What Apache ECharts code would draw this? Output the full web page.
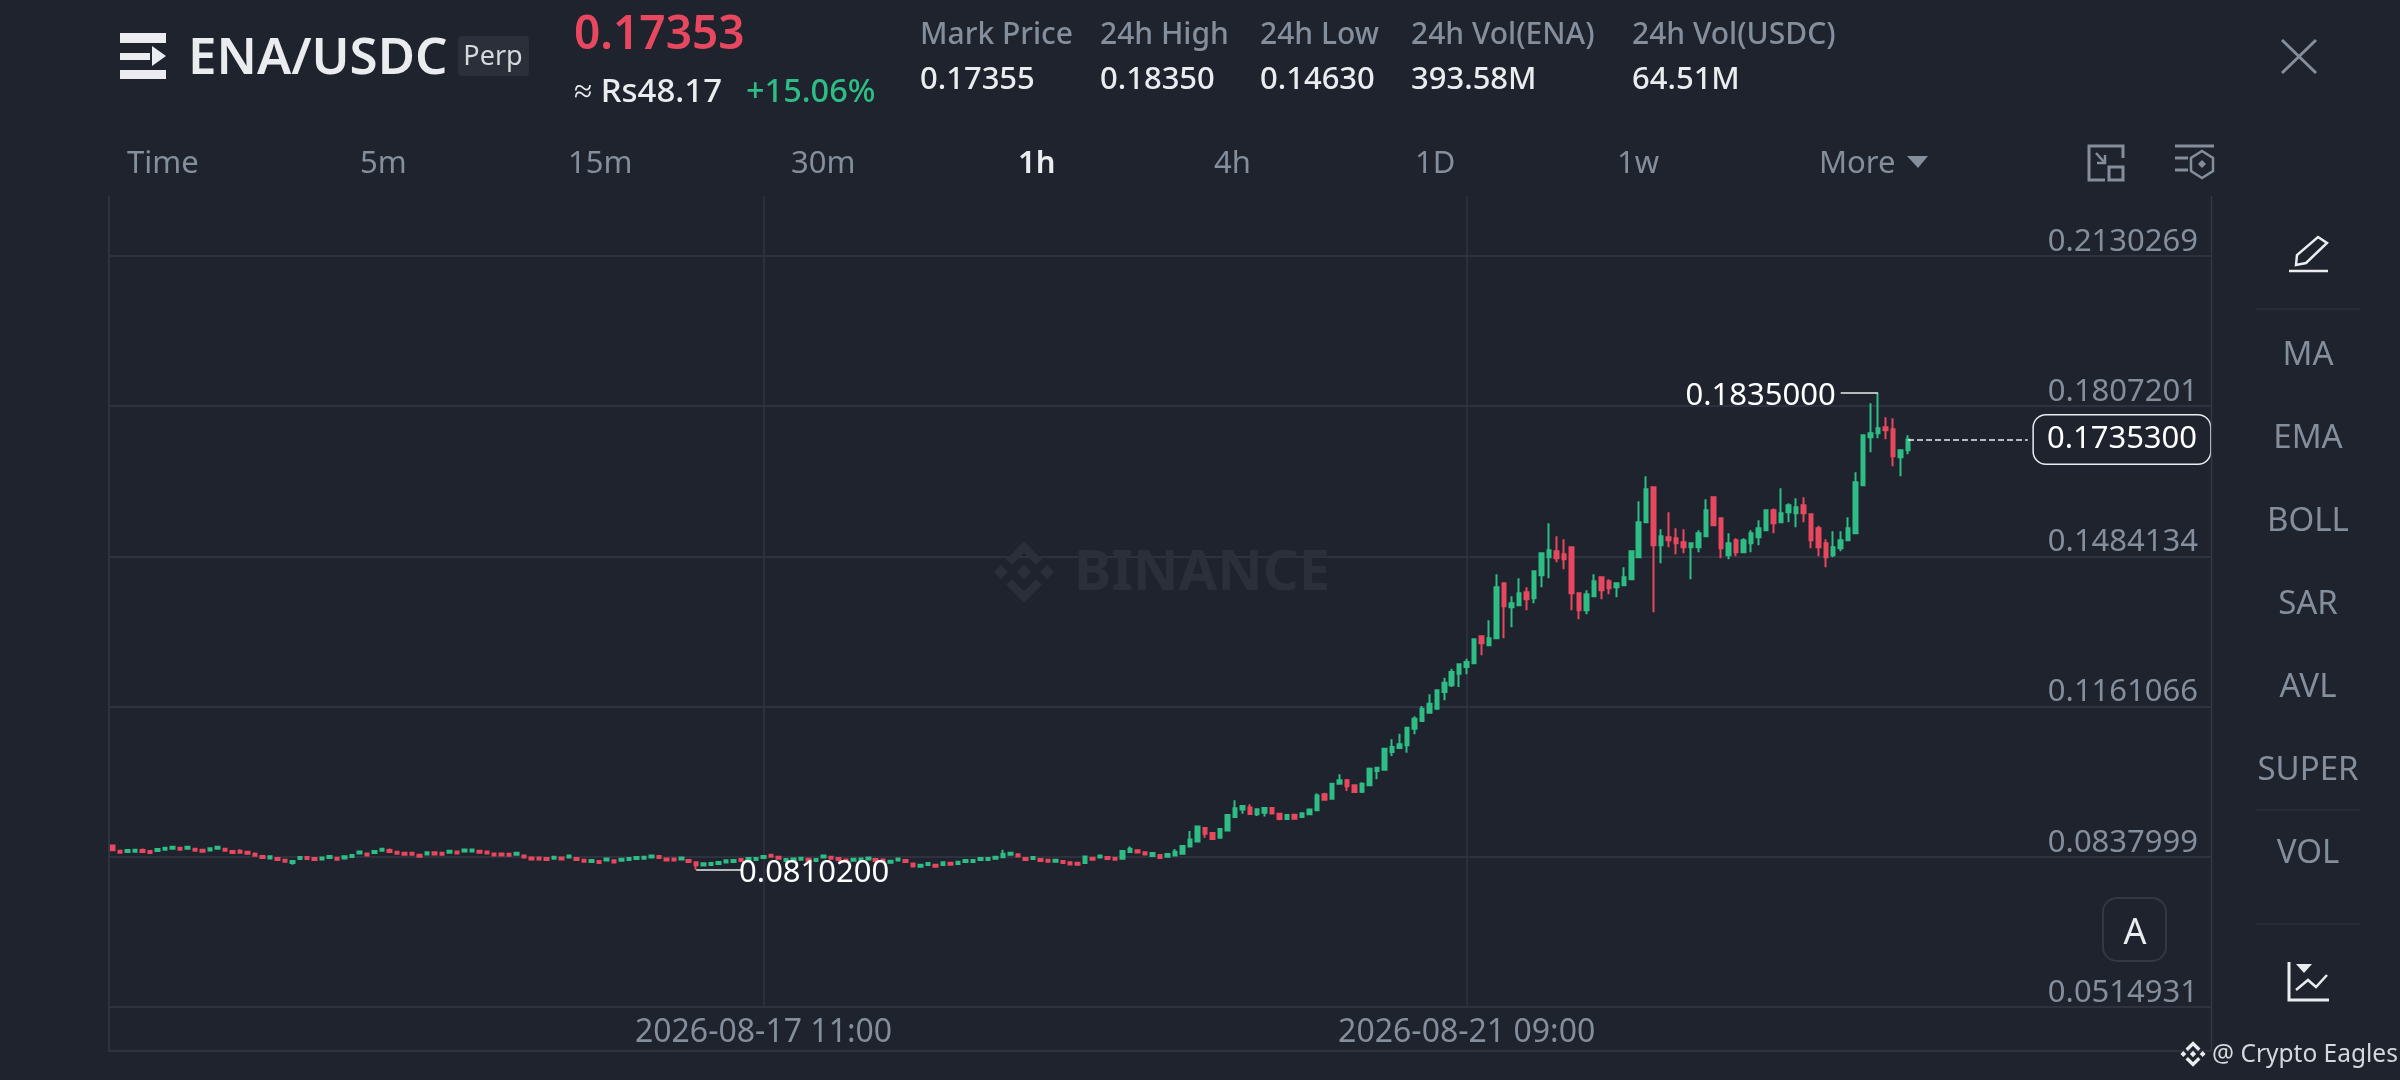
<!DOCTYPE html>
<html><head><meta charset="utf-8">
<style>html,body{margin:0;padding:0;background:#1e232d}#c{width:2400px;height:1080px}</style>
<script src="https://cdn.jsdelivr.net/npm/echarts@6/dist/echarts.min.js"></script>
</head><body><div id="c"></div>
<script>
// Prices are stored in units of 0.00001 USDC, one candle per hour.
const priceUnit = 0.00001;
const opens = [
8620,8510,8481,8488,8525,8503,8502,8531,8552,8575,
8552,8553,8532,8517,8552,8553,8503,8510,8489,8446,
8396,8345,8353,8317,8244,8330,8374,8353,8323,8352,
8360,8345,8373,8452,8453,8459,8509,8525,8489,8467,
8467,8424,8431,8475,8467,8466,8496,8495,8495,8510,
8496,8453,8453,8446,8423,8410,8367,8367,8353,8337,
8367,8366,8353,8317,8266,8288,8301,8303,8294,8309,
8330,8337,8366,8396,8345,8345,8323,8310,8262,8194,
8201,8223,8259,8266,8331,8309,8309,8352,8424,8381,
8287,8301,8316,8338,8287,8366,8381,8353,8324,8294,
8301,8323,8331,8324,8251,8301,8310,8235,8165,8201,
8209,8205,8252,8225,8266,8266,8309,8309,8337,8368,
8423,8432,8353,8330,8331,8317,8273,8288,8260,8252,
8245,8360,8366,8374,8360,8338,8481,8518,8475,8397,
8416,8381,8409,8446,8603,8711,8997,8889,8790,8947,
9234,9394,9437,9292,9328,9427,9307,9191,9285,9234,
9292,9378,9722,9630,9952,10023,9916,9780,9916,10223,
10253,10632,10718,10776,11135,11299,11479,11565,11922,12067,
12318,12460,12540,13120,12927,13078,14261,13745,13788,14067,
13938,14433,14820,14949,14884,15035,14046,13680,13981,14390,
14304,14175,14218,14347,14820,15573,16326,15078,15250,15229,
15143,15035,15035,15272,16111,15659,14863,15186,14928,15121,
15250,15400,15831,15573,15788,15766,15939,15745,15444,15121,
14863,15014,15186,15336,16368,17401,17487,17616,17573,16971,
17122];
const closes = [
8520,8466,8525,8532,8481,8459,8546,8575,8596,8531,
8596,8509,8488,8561,8596,8509,8459,8466,8445,8402,
8352,8389,8309,8273,8288,8374,8330,8309,8367,8396,
8316,8389,8417,8496,8409,8503,8553,8481,8445,8423,
8423,8380,8475,8431,8423,8510,8452,8539,8539,8466,
8452,8409,8409,8402,8467,8366,8323,8323,8309,8381,
8323,8410,8309,8273,8310,8244,8345,8259,8338,8353,
8374,8381,8410,8352,8301,8301,8367,8266,8198,8238,
8245,8267,8303,8310,8287,8353,8353,8396,8380,8337,
8331,8345,8360,8294,8331,8410,8337,8309,8280,8338,
8345,8367,8287,8280,8295,8345,8266,8169,8209,8245,
8165,8262,8208,8275,8310,8310,8353,8353,8381,8445,
8467,8388,8309,8374,8287,8273,8317,8244,8216,8208,
8388,8316,8410,8330,8316,8503,8553,8474,8431,8459,
8351,8437,8489,8609,8754,9033,8877,8760,8975,9276,
9421,9471,9299,9400,9427,9313,9191,9277,9199,9314,
9394,9700,9608,9952,10023,9894,9772,9952,10275,10296,
10705,10740,10798,11157,11350,11565,11673,11959,12124,12353,
12518,12568,13056,12970,13078,14175,13766,13831,14045,13917,
14519,14906,14970,14798,14777,14046,13680,14024,14304,14110,
14153,14261,14390,14949,15573,16283,15078,15272,15186,15121,
15035,15121,15336,15831,15508,15014,15121,14928,15186,15336,
15444,15831,15552,15766,15939,15896,15766,15186,15035,14820,
15035,15186,15444,16433,17444,17487,17595,17552,16992,17122,
17353];
const lows = [
8510,8455,8475,8482,8475,8450,8496,8525,8546,8525,
8546,8500,8480,8510,8546,8500,8452,8460,8438,8395,
8345,8338,8302,8266,8210,8324,8324,8302,8316,8346,
8310,8338,8366,8446,8402,8452,8502,8475,8438,8416,
8416,8372,8425,8425,8416,8460,8446,8488,8488,8460,
8445,8402,8402,8395,8416,8360,8316,8316,8302,8330,
8316,8360,8302,8266,8260,8238,8295,8252,8288,8302,
8324,8330,8360,8345,8295,8295,8316,8260,8102,8187,
8195,8216,8252,8260,8280,8302,8302,8346,8374,8330,
8280,8295,8310,8288,8280,8360,8330,8302,8274,8288,
8295,8316,8280,8274,8245,8295,8260,8160,8158,8195,
8158,8198,8200,8218,8260,8260,8302,8302,8330,8360,
8416,8380,8302,8324,8280,8266,8266,8238,8210,8200,
8238,8310,8360,8324,8310,8330,8470,8468,8425,8390,
8345,8375,8387,8440,8589,8705,8790,8752,8784,8940,
9228,9307,9292,9255,9247,9306,9163,9185,9192,9228,
9286,9363,9587,9623,9937,9793,9765,9751,9902,10045,
10246,10546,10718,10619,11013,11277,11479,11558,11744,12030,
12030,12303,12534,12712,12906,13078,13078,13314,13766,13680,
13831,14175,14368,14712,14562,13680,13487,13594,13960,13917,
14024,13960,14196,14340,14798,15573,13637,14691,15035,14884,
14906,14347,14927,15272,15500,14798,14777,14841,14906,14928,
15078,15393,15336,15551,15573,15465,15573,15014,14841,14605,
14820,14949,15186,15315,16360,17079,17380,17358,16777,16562,
17035];
const highs = [
8640,8520,8532,8540,8560,8510,8552,8582,8602,8582,
8602,8560,8540,8568,8602,8560,8510,8540,8496,8470,
8402,8396,8360,8324,8295,8380,8380,8360,8374,8402,
8366,8396,8424,8502,8460,8510,8560,8560,8496,8474,
8474,8430,8482,8482,8474,8516,8502,8546,8546,8516,
8502,8460,8460,8452,8474,8416,8374,8374,8360,8388,
8374,8416,8360,8324,8316,8294,8352,8310,8345,8360,
8380,8388,8416,8402,8352,8352,8374,8316,8270,8245,
8252,8274,8310,8316,8338,8360,8360,8402,8430,8388,
8338,8352,8366,8345,8338,8416,8388,8360,8330,8345,
8352,8374,8338,8330,8302,8352,8316,8242,8216,8252,
8216,8268,8258,8282,8316,8316,8360,8360,8388,8531,
8474,8438,8360,8380,8338,8324,8324,8295,8266,8258,
8395,8366,8416,8380,8366,8510,8603,8524,8482,8466,
8422,8444,8545,8616,8932,9040,9018,8896,8982,9283,
9593,9486,9507,9421,9427,9434,9320,9284,9292,9320,
9400,9744,9759,9960,10152,10051,9922,9981,10302,10310,
10712,10905,11027,11157,11400,11621,11873,11966,12232,12426,
12518,12641,13062,13142,13465,14454,14261,13981,14368,14175,
14519,14906,15551,15272,15207,15035,14046,14110,14454,14390,
14347,14261,14605,14956,16025,16562,16326,15422,15788,15444,
15422,15121,15401,16068,16111,15659,15336,15229,15229,15400,
15616,15838,15870,16304,15982,16089,16111,15745,15500,15207,
15379,15379,15680,16648,17451,18132,18350,17831,17810,17122,
17444];

const yTickValues = [0.0514931,0.0837999,0.1161066,0.1484134,0.1807201,0.2130269];
const xTickLabels = ['2026-08-17 11:00','2026-08-21 09:00'];
const yMin = 0.0514931, yMax = 0.2259;
const lastPrice = 0.17353, highPrice = 0.1835, lowPrice = 0.08102;
const hourCount = 281;

const pad = n => String(n).padStart(2,'0');
const categories = [];
for (let i = 0; i < hourCount; i++) {
  const d = new Date(Date.UTC(2026,7,13,20) + i*3600e3);
  categories.push(d.getUTCFullYear()+'-'+pad(d.getUTCMonth()+1)+'-'+pad(d.getUTCDate())+' '+pad(d.getUTCHours())+':00');
}
const candles = opens.map((o,i)=>[o*priceUnit, closes[i]*priceUnit, lows[i]*priceUnit, highs[i]*priceUnit]);
const highIdx = highs.indexOf(18350), lowIdx = lows.indexOf(8102), lastIdx = opens.length-1;

const bg='#1e232d', grey='#848e9c', white='#eaecef', green='#2ebd85', red='#e8485f', gridC='#333944';
const FF='"Noto Sans"';
const T=(x,y,text,size,fill,weight,align)=>({type:'text',silent:true,x,y:y+3,z:10,style:{text,fill,fontSize:size,fontWeight:weight||400,fontFamily:FF,align:align||'left',textAlign:align||'left',verticalAlign:'middle',textVerticalAlign:'middle'}});
const L=(x1,y1,x2,y2,c,w)=>({type:'line',silent:true,z:9,shape:{x1,y1,x2,y2},style:{stroke:c,lineWidth:w||2}});
const R=(x,y,w,h,fill,r,stroke,lw)=>({type:'rect',silent:true,z:9,shape:{x,y,width:w,height:h,r:r||0},style:{fill:fill||'none',stroke:stroke||'none',lineWidth:lw||0}});
const P=(pts,fill)=>({type:'polygon',silent:true,z:9,shape:{points:pts},style:{fill}});
const PS=(pts,c,w)=>({type:'polygon',silent:true,z:9,shape:{points:pts},style:{fill:'none',stroke:c,lineWidth:w}});
const PL=(pts,c,w)=>({type:'polyline',silent:true,z:9,shape:{points:pts},style:{fill:'none',stroke:c,lineWidth:w}});
const D=(cx,cy,r,fill)=>P([[cx-r,cy],[cx,cy-r],[cx+r,cy],[cx,cy+r]],fill);
function logo(cx,cy,s,c){
  const u=s/31;
  return [D(cx,cy,7.5*u,c),D(cx-23*u,cy,7*u,c),D(cx+23*u,cy,7*u,c),
    PL([[cx-15*u,cy-10*u],[cx,cy-25*u],[cx+15*u,cy-10*u]],c,8*u),
    PL([[cx-15*u,cy+10*u],[cx,cy+25*u],[cx+15*u,cy+10*u]],c,8*u)];
}
const stats=[[920,'Mark Price','0.17355'],[1100,'24h High','0.18350'],[1260,'24h Low','0.14630'],[1411,'24h Vol(ENA)','393.58M'],[1632,'24h Vol(USDC)','64.51M']];
const tabs=[[127,'Time'],[360,'5m'],[568,'15m'],[791,'30m'],[1018,'1h'],[1214,'4h'],[1415,'1D'],[1617,'1w'],[1819,'More']];
const side=[[353,'MA'],[436,'EMA'],[519,'BOLL'],[602,'SAR'],[685,'AVL'],[768,'SUPER'],[851,'VOL']];

const chrome=[
  R(120,33,46,10,white),R(120,70,46,9,white),R(120,53,30,7,white),P([[152,46],[166,56],[152,66]],white),
  T(188,56,'ENA/USDC',51,white,600),
  R(458,36,71,40,'#2a2f3a',4),T(493,54,'Perp',27,'#d5d8dc',400,'center'),
  T(574,33,'0.17353',46,red,600),
  T(574,90,'≈ Rs48.17',33,white,500),
  T(746,90,'+15.06%',32.5,green,500),
  ...stats.flatMap(s=>[T(s[0],32,s[1],30,grey,500),T(s[0],77,s[2],31,white,500)]),
  L(2282,40,2316,73,grey,3),L(2316,40,2282,73,grey,3),
  ...tabs.map(t=>T(t[0],161,t[1],31,t[1]==='1h'?white:grey,t[1]==='1h'?600:400)),
  P([[1907,156],[1928,156],[1918,168]],grey),
  PL([[2123,158],[2123,146],[2089,146],[2089,180],[2105,180]],grey,3),R(2109,167,14,13,'none',0,grey,3),
  L(2096,153,2105,163,grey,2.5),PL([[2105,155],[2105,163],[2097,163]],grey,2.5),
  L(2175,146,2214,146,grey,3),L(2175,158,2188,158,grey,3),L(2175,170,2188,170,grey,3),
  PS([[2202,151],[2213,158],[2213,171],[2202,178],[2191,171],[2191,158]],grey,2.5),D(2202,164,4,grey),
  PS([[2296,265],[2297,255],[2318,237],[2327,243],[2306,263]],white,2.5),L(2289,271,2328,271,white,2.5),
  L(2256,309,2360,309,'#2b3139',1.5),L(2256,810,2360,810,'#2b3139',1.5),L(2256,924,2360,924,'#2b3139',1.5),
  ...side.map(s=>T(2308,s[0],s[1],33,grey,400,'center')),
  PL([[2289,962],[2289,1000],[2329,1000]],white,3),PL([[2296,990],[2308,980],[2316,987],[2327,975]],white,2.5),
  P([[2296,964],[2312,964],[2304,973]],white),
  R(2103,898,63,63,'none',14,'#333944',2),T(2135,931,'A',36,white,400,'center'),
  L(109,196,109,1051,gridC,1.5),L(2211.5,196,2211.5,1051,gridC,1.5),L(109,1051,2211,1051,gridC,1.5),
  T(2212,1052,'@ Crypto Eagles',24.5,'#d5d8dc',400),
  ...logo(2193,1054,13,'#eaecef'),
  T(1074,571,'BINANCE',56,'#2a2f39',700),
  ...logo(1024,572,31,'#2a2f39'),
];

const chart=echarts.init(document.getElementById('c'),null,{width:2400,height:1080});
chart.setOption({
  backgroundColor:bg,animation:false,
  textStyle:{fontFamily:FF},
  graphic:{elements:chrome},
  grid:{left:109,right:189,top:196,bottom:73,containLabel:false},
  xAxis:{type:'category',data:categories,boundaryGap:true,
    axisLine:{show:false},
    axisTick:{show:false,alignWithLabel:true,interval:(i,v)=>xTickLabels.includes(v)},
    axisLabel:{interval:(i,v)=>xTickLabels.includes(v),color:grey,fontSize:32,fontFamily:FF,margin:10,hideOverlap:false},
    splitLine:{show:true,alignWithLabel:true,interval:(i,v)=>xTickLabels.includes(v),lineStyle:{color:'#2f353f',width:1.5}}},
  yAxis:{type:'value',position:'right',min:yMin,max:yMax,scale:true,
    axisLine:{show:false},
    axisTick:{show:false,customValues:yTickValues},
    axisLabel:{inside:true,customValues:yTickValues,margin:13,color:grey,fontSize:31,lineHeight:28,fontFamily:FF,verticalAlign:'bottom',hideOverlap:false,formatter:v=>v.toFixed(7)},
    splitLine:{show:true,lineStyle:{color:gridC,width:1.5}}},
  series:[{type:'candlestick',data:candles,barWidth:4,
    itemStyle:{color:green,color0:red,borderColor:green,borderColor0:red,borderWidth:2},
    markLine:{silent:true,symbol:'none',animation:false,label:{show:false},data:[
      [{coord:[categories[lastIdx],lastPrice],lineStyle:{color:'#eaecef',type:'dashed',width:1.5}},{coord:[categories[256],lastPrice]}],
      [{coord:[categories[highIdx],highPrice],lineStyle:{color:'#eaecef',type:'solid',width:1.5}},{coord:[categories[231],highPrice]}],
      [{coord:[categories[lowIdx],lowPrice],lineStyle:{color:'#eaecef',type:'solid',width:1.5}},{coord:[categories[84],lowPrice]}]
    ]},
    markPoint:{silent:true,symbol:'rect',symbolSize:0,animation:false,data:[
      {coord:[categories[269],lastPrice],label:{show:true,position:'inside',formatter:lastPrice.toFixed(7),color:'#ffffff',fontSize:31,fontFamily:FF,backgroundColor:bg,borderColor:'#eaecef',borderWidth:1.5,borderRadius:12,padding:[12,13,5,13],offset:[-3,0]}},
      {coord:[categories[231],highPrice],label:{show:true,position:'left',distance:5,formatter:highPrice.toFixed(7),color:'#ffffff',fontSize:31,fontFamily:FF,offset:[0,3]}},
      {coord:[categories[84],lowPrice],label:{show:true,position:'right',distance:-2,formatter:lowPrice.toFixed(7),color:'#ffffff',fontSize:31,fontFamily:FF,offset:[0,3]}}
    ]}
  }]
});
</script></body></html>
